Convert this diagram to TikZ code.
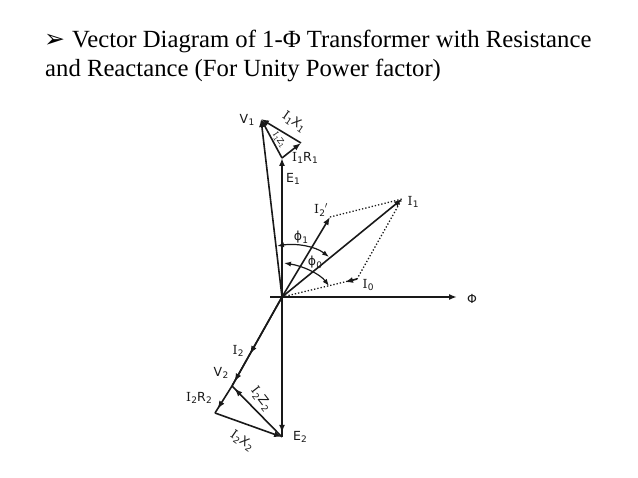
\documentclass[tikz,border=0pt]{standalone}
\usepackage{fontspec}
\setmainfont{Liberation Serif}
\setsansfont{DejaVu Sans}
\newfontfamily\symfont{DejaVu Sans}
\newfontfamily\serI{DejaVu Serif}
\newcommand{\II}{{\serI I}}
\newcommand{\sbs}[1]{\kern0.3pt\raisebox{-0.22em}{\fontsize{9}{9}\selectfont #1}}
\usetikzlibrary{arrows.meta,decorations.markings}
\definecolor{ink}{gray}{0.1}
\tikzset{
  tip/.tip={Latex[length=8pt,width=6pt]},
  vec/.style={draw=ink,line width=1.6pt,-tip},
  plain/.style={draw=ink,line width=1.6pt},
  dots/.style={draw=ink,line width=1.3pt,dotted},
  midtip/.style={postaction={decorate},decoration={markings,mark=at position #1 with {\arrow{tip}}}},
  lab/.style={font=\sffamily\fontsize{12.5}{13}\selectfont,text=ink,inner sep=0pt},
  title/.style={font=\fontsize{24.7}{29}\selectfont,text=black,inner sep=0pt,anchor=base west}
}
\begin{document}
\begin{tikzpicture}[x=1pt,y=-1pt]
\useasboundingbox (0,0) rectangle (638,478);
\fill[white] (0,0) rectangle (638,478);
\node[title] (tb) at (44,48) {{\symfont\fontsize{25}{25}\selectfont ➢}};
\node[title] (t1) at (72,48) {Vector Diagram of 1-Φ Transformer with Resistance};
\node[title] (t2) at (45,77) {and Reactance (For Unity Power factor)};
\coordinate (O) at (282,297);
\coordinate (V1) at (261,119);
\coordinate (E1) at (282,158);
\coordinate (R1) at (301,143);
\coordinate (I2p) at (330,217);
\coordinate (I1) at (402,199);
\coordinate (I0) at (357,279);
\coordinate (I0s) at (345,282);
\coordinate (PhiS) at (270,297);
\coordinate (PhiE) at (457,297);
\coordinate (V2) at (232,386);
\coordinate (R2) at (215,413);
\coordinate (E2) at (282,437);
% secondary side
\draw[plain,midtip=0.64] (O) -- (V2);
\draw[plain,midtip=0.95] (O) -- (V2);
\draw[plain,midtip=0.85] (V2) -- (R2);
\draw[plain,midtip=0.97] (O) -- (E2);
\draw[plain,-tip] (R2) -- (E2);
\draw[plain,midtip=0.95] (E2) -- (V2);
% primary side
\draw[vec] (O) -- (V1);
\draw[vec] (O) -- (E1);
\draw[vec] (R1) -- (V1);
\draw[plain,-tip] (E1) -- (R1);
\draw[vec] (E1) -- (V1);
\draw[dots] (I2p) -- (I1) -- (I0);
\draw[dots] (O) -- (I0);
\draw[vec] (O) -- (I2p);
\draw[vec] (O) -- (I1);
\draw[plain,-tip] (I0) -- (I0s);
\draw[vec] (PhiS) -- (PhiE);
% angle arcs
\coordinate (a1s) at (277,246);
\coordinate (a1e) at (329,257);
\coordinate (a0s) at (284,263);
\coordinate (a0e) at (329,286);
\draw[draw=ink,line width=1.2pt,{Latex[length=7pt,width=5pt]}-{Latex[length=7pt,width=5pt]}] (a1s) .. controls (295,243) and (315,246) .. (a1e);
\draw[draw=ink,line width=1.2pt,{Latex[length=7pt,width=5pt]}-{Latex[length=7pt,width=5pt]}] (a0s) .. controls (303,266) and (320,274) .. (a0e);
% labels
\node[lab] (lV1) at (247,120) {V\sbs{1}};
\node[lab,rotate=-35] (lX1) at (294,122) {\II\sbs{1}X\sbs{1}};
\node[lab,rotate=-55,scale=0.65] (lZ1) at (279,140) {\II\sbs{1}Z\sbs{1}};
\node[lab] (lR1) at (305,158) {\II\sbs{1}R\sbs{1}};
\node[lab] (lE1) at (293,179) {E\sbs{1}};
\node[lab] (lI2p) at (321,210) {\II\sbs{2}$'$};
\node[lab] (lI1) at (413,202) {\II\sbs{1}};
\node[lab] (lI0) at (368,285) {\II\sbs{0}};
\node[lab] (lp1) at (301,237) {ϕ\sbs{1}};
\node[lab] (lp0) at (315,262) {ϕ\sbs{0}};
\node[lab] (lPhi) at (472,299) {Φ};
\node[lab] (lI2) at (238,351) {\II\sbs{2}};
\node[lab] (lV2) at (221,373) {V\sbs{2}};
\node[lab] (lR2) at (199,398) {\II\sbs{2}R\sbs{2}};
\node[lab,rotate=-52] (lZ2) at (261,399) {\II\sbs{2}Z\sbs{2}};
\node[lab,rotate=-35] (lX2) at (242,441) {\II\sbs{2}X\sbs{2}};
\node[lab] (lE2) at (300,437) {E\sbs{2}};
\end{tikzpicture}
\end{document}
